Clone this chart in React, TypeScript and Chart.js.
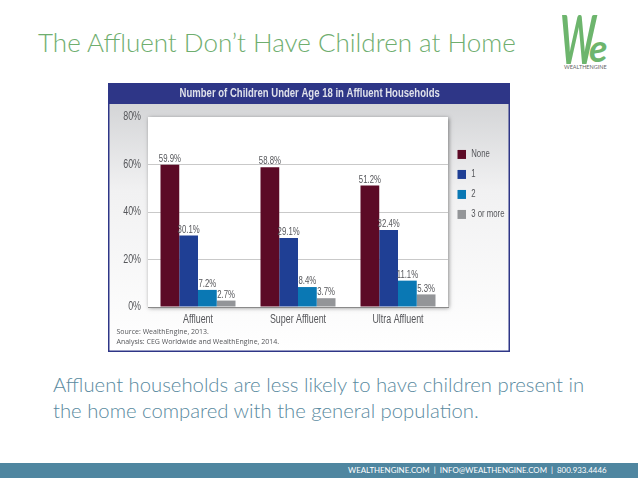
import React, { useEffect, useRef } from "react";
import { Chart, registerables } from "chart.js";

Chart.register(...registerables);

const categories = ["Affluent", "Super Affluent", "Ultra Affluent"];
const noneValues = [59.9, 58.8, 51.2];
const oneValues = [30.1, 29.1, 32.4];
const twoValues = [7.2, 8.4, 11.1];
const threeValues = [2.7, 3.7, 5.3];
const seriesNames = ["None", "1", "2", "3 or more"];
const seriesColors = ["#5c0a26", "#1f3f94", "#0a78b4", "#939598"];
const chartTitle = "Number of Children Under Age 18 in Affluent Households";
const sourceLines = ["Source: WealthEngine, 2013.", "Analysis: CEG Worldwide and WealthEngine, 2014."];
const sans = '"Liberation Sans", sans-serif';

// The original chart uses a condensed face; none is installed, so canvas text is squeezed horizontally.
let squeeze = 0.74;
function condenseCanvasText(ctx: any) {
  if (ctx.__condensed) return;
  ctx.__condensed = true;
  const original = ctx.fillText.bind(ctx);
  ctx.fillText = (text: string, x: number, y: number) => {
    ctx.save();
    ctx.translate(x, y);
    ctx.scale(squeeze, 1);
    original(text, 0, 0);
    ctx.restore();
  };
}

const panelPlugin = {
  id: "panel",
  beforeDraw(chart: any) {
    const { ctx, width, height, chartArea: a } = chart;
    ctx.save();
    const g = ctx.createLinearGradient(0, 21, 0, height);
    g.addColorStop(0, "#d4d5d7");
    g.addColorStop(0.35, "#f1f1f2");
    g.addColorStop(1, "#ffffff");
    ctx.fillStyle = g;
    ctx.fillRect(0, 0, width, height);
    ctx.fillStyle = "#2e3687";
    ctx.fillRect(0, 0, width, 21);
    ctx.strokeStyle = "#2e3687";
    ctx.lineWidth = 1.5;
    ctx.strokeRect(0.75, 0.75, width - 1.5, height - 1.5);
    ctx.shadowColor = "rgba(0,0,0,0.45)";
    ctx.shadowBlur = 4;
    ctx.shadowOffsetX = 1;
    ctx.shadowOffsetY = 1;
    ctx.fillStyle = "#ffffff";
    ctx.fillRect(a.left, a.top, a.right - a.left, a.bottom - a.top);
    ctx.restore();
  },
  afterDraw(chart: any) {
    const { ctx } = chart;
    ctx.save();
    ctx.fillStyle = "#dfe1ea";
    ctx.font = `bold 12.9px ${sans}`;
    ctx.textAlign = "center";
    ctx.textBaseline = "middle";
    ctx.fillText(chartTitle, 201.7, 10.5);
    squeeze = 1;
    ctx.fillStyle = "#55565a";
    ctx.font = `7px "Open Sans", sans-serif`;
    ctx.textAlign = "left";
    sourceLines.forEach((s, i) => ctx.fillText(s, 8.5, 249 + i * 10));
    squeeze = 0.74;
    ctx.restore();
  },
};

const labelPlugin = {
  id: "barLabels",
  afterDatasetsDraw(chart: any) {
    const { ctx } = chart;
    ctx.save();
    ctx.fillStyle = "#55565a";
    ctx.font = `10.5px ${sans}`;
    ctx.textAlign = "center";
    ctx.textBaseline = "bottom";
    chart.data.datasets.forEach((ds: any, i: number) => {
      chart.getDatasetMeta(i).data.forEach((bar: any, j: number) => {
        ctx.fillText(`${ds.data[j].toFixed(1)}%`, bar.x, bar.y - 0.5);
      });
    });
    ctx.restore();
  },
};

const S: Record<string, React.CSSProperties> = {
  page: { position: "fixed", left: 0, top: 0, width: 638, height: 479, background: "#fff", overflow: "hidden" },
  title: { position: "absolute", left: 38, top: 24, fontFamily: "Lato, sans-serif", fontWeight: 300, fontSize: 26, color: "#6fae6f", whiteSpace: "nowrap", lineHeight: "36px" },
  weW: { position: "absolute", left: 560, top: 6, fontFamily: "Lato, sans-serif", fontWeight: 700, fontStyle: "italic", fontSize: 66, color: "#6db56d", lineHeight: "66px", transform: "scaleX(0.56)", transformOrigin: "left top" },
  weE: { position: "absolute", left: 589, top: 28, fontFamily: "Lato, sans-serif", fontWeight: 700, fontStyle: "italic", fontSize: 38, color: "#6db56d", lineHeight: "38px" },
  weSub: { position: "absolute", left: 564, top: 64, fontFamily: "Lato, sans-serif", fontSize: 5.5, color: "#666", whiteSpace: "nowrap" },
  body: { position: "absolute", left: 53, top: 371, fontFamily: "Lato, sans-serif", fontWeight: 300, fontSize: 20.3, color: "#5a8aa0", lineHeight: "26px", whiteSpace: "nowrap" },
  bar: { position: "absolute", left: 0, top: 463, width: 638, height: 15, background: "#4f86a0" },
  foot: { position: "absolute", left: 348, top: 463, fontFamily: "Lato, sans-serif", fontSize: 7.9, color: "#fff", lineHeight: "15px", whiteSpace: "nowrap" },
  canvasBox: { position: "absolute", left: 108, top: 83, width: 402, height: 269, filter: "blur(0.4px)" },
};

export default function App() {
  const ref = useRef<HTMLCanvasElement>(null);
  useEffect(() => {
    const valueSets = [noneValues, oneValues, twoValues, threeValues];
    condenseCanvasText(ref.current!.getContext("2d"));
    const chart = new Chart(ref.current!, {
      type: "bar",
      data: {
        labels: categories,
        datasets: seriesNames.map((name, i) => ({
          label: name,
          data: valueSets[i],
          backgroundColor: seriesColors[i],
          categoryPercentage: 0.75,
          barPercentage: 1,
        })),
      },
      options: {
        animation: false,
        responsive: true,
        maintainAspectRatio: false,
        layout: { padding: { top: 34, bottom: 17, left: 0, right: 0 } },
        plugins: {
          title: { display: false },
          tooltip: { enabled: false },
          legend: {
            position: "right",
            align: "start",
            maxWidth: 62,
            title: { display: true, text: "", padding: { top: 0, bottom: 21.5 }, font: { size: 1 } },
            labels: {
              boxWidth: 8.5,
              boxHeight: 9,
              padding: 9.5,
              color: "#55565a",
              font: { family: sans, size: 10.5 },
            },
          },
        },
        scales: {
          x: {
            afterFit(s: any) { s.height = 28; },
            grid: { display: false, drawTicks: false },
            border: { color: "#8a8a8a" },
            ticks: { color: "#55565a", maxRotation: 0, font: { family: sans, size: 12 }, padding: 5 },
          },
          y: {
            min: 0,
            max: 80,
            afterFit(s: any) { s.width = 40; },
            grid: { color: (c: any) => (c.tick.value === 0 || c.tick.value === 80 ? "rgba(0,0,0,0)" : "#c9c9c9"), drawTicks: false },
            border: { display: false },
            ticks: { stepSize: 20, padding: 7, color: "#55565a", font: { family: sans, size: 12 }, callback: (v: any) => `${v}%` },
          },
        },
      },
      plugins: [panelPlugin, labelPlugin],
    } as any);
    return () => chart.destroy();
  }, []);
  return (
    <div style={S.page}>
      <div style={S.title}>The Affluent Don’t Have Children at Home</div>
      <div style={S.weW}>W</div>
      <div style={S.weE}>e</div>
      <div style={S.weSub}>WEALTHENGINE</div>
      <div style={S.canvasBox}><canvas ref={ref} /></div>
      <div style={S.body}>
        Affluent households are less likely to have children present in<br />
        the home compared with the general population.
      </div>
      <div style={S.bar} />
      <div style={S.foot}>WEALTHENGINE.COM &nbsp;|&nbsp; INFO@WEALTHENGINE.COM &nbsp;|&nbsp; 800.933.4446</div>
    </div>
  );
}
